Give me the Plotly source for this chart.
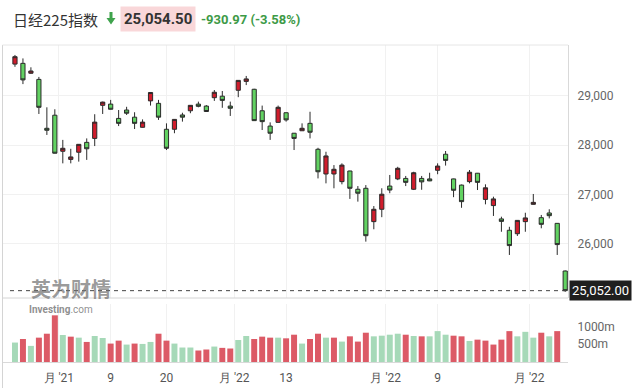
import plotly.graph_objects as go

# ---------------- data ----------------
dates = ["2021-11-22", "2021-11-24", "2021-11-25", "2021-11-26", "2021-11-29", "2021-11-30",
         "2021-12-01", "2021-12-02", "2021-12-03", "2021-12-06", "2021-12-07", "2021-12-08",
         "2021-12-09", "2021-12-10", "2021-12-13", "2021-12-14", "2021-12-15", "2021-12-16",
         "2021-12-17", "2021-12-20", "2021-12-21", "2021-12-22", "2021-12-23", "2021-12-24",
         "2021-12-27", "2021-12-28", "2021-12-29", "2021-12-30", "2022-01-04", "2022-01-05",
         "2022-01-06", "2022-01-07", "2022-01-11", "2022-01-12", "2022-01-13", "2022-01-14",
         "2022-01-17", "2022-01-18", "2022-01-19", "2022-01-20", "2022-01-21", "2022-01-24",
         "2022-01-25", "2022-01-26", "2022-01-27", "2022-01-28", "2022-01-31", "2022-02-01",
         "2022-02-02", "2022-02-03", "2022-02-04", "2022-02-07", "2022-02-08", "2022-02-09",
         "2022-02-10", "2022-02-14", "2022-02-15", "2022-02-16", "2022-02-17", "2022-02-18",
         "2022-02-21", "2022-02-22", "2022-02-24", "2022-02-25", "2022-02-28", "2022-03-01",
         "2022-03-02", "2022-03-03", "2022-03-04", "2022-03-07"]

opens = [29640, 29655, 29455, 29330, 28340, 28605, 27875, 27710, 27855, 28055,
         28135, 28805, 28830, 28540, 28710, 28565, 28360, 28895, 28845, 28320,
         28320, 28610, 28695, 28830, 28790, 28960, 28990, 28790, 29110, 29290,
         29130, 28695, 28385, 28460, 28655, 28240, 28290, 28440, 27915, 27415,
         27415, 27260, 27475, 27105, 27125, 26450, 26700, 27170, 27315, 27325,
         27105, 27325, 27315, 27490, 27815, 27315, 27190, 27260, 27430, 26900,
         26775, 26505, 26275, 26205, 26450, 26800, 26530, 26625, 26415, 25450]

highs = [29825, 29755, 29575, 29380, 28765, 28725, 28105, 27925, 28020, 28135,
         28625, 28880, 28915, 28710, 28775, 28665, 28520, 29070, 28915, 28440,
         28525, 28655, 28810, 28880, 28810, 29115, 29095, 28880, 29315, 29400,
         29140, 28800, 28460, 28800, 28660, 28245, 28440, 28675, 27945, 27865,
         27595, 27630, 27480, 27170, 27190, 26765, 27125, 27395, 27560, 27375,
         27460, 27375, 27440, 27630, 27880, 27320, 27200, 27495, 27435, 27205,
         26955, 26550, 26345, 26480, 26630, 27010, 26585, 26700, 26420, 25460]

lows = [29585, 29235, 29440, 28630, 28205, 27830, 27630, 27630, 27665, 27700,
        27980, 28630, 28720, 28385, 28610, 28325, 28355, 28800, 28510, 27900,
        28240, 28475, 28645, 28765, 28675, 28895, 28755, 28590, 28970, 29215,
        28490, 28305, 28105, 28455, 28475, 27900, 28285, 28135, 27325, 27225,
        27125, 27205, 26910, 26855, 26045, 26295, 26540, 27025, 27290, 27170,
        27090, 27095, 27270, 27410, 27585, 26945, 26730, 27225, 27090, 26800,
        26565, 26245, 25775, 26160, 26245, 26795, 26315, 26515, 25775, 25030]

closes = [29790, 29320, 29500, 28765, 28300, 27835, 27935, 27760, 28015, 27925,
          28465, 28870, 28725, 28440, 28645, 28440, 28465, 29065, 28565, 27935,
          28520, 28565, 28805, 28785, 28680, 29070, 28905, 28745, 29310, 29340,
          28495, 28475, 28240, 28765, 28510, 28135, 28340, 28260, 27460, 27780,
          27510, 27595, 27125, 27025, 26165, 26700, 27005, 27090, 27530, 27245,
          27440, 27255, 27275, 27575, 27690, 27085, 26855, 27450, 27245, 27135,
          26910, 26455, 25965, 26475, 26525, 26840, 26395, 26570, 25985, 25052]

volumes_m = [548, 648, 454, 686, 797, 1315, 760, 714, 686, 565,
             732, 676, 519, 602, 491, 519, 509, 565, 797, 602,
             519, 408, 408, 324, 352, 435, 398, 380, 620, 732,
             648, 714, 686, 686, 667, 769, 519, 648, 797, 686,
             686, 575, 723, 575, 825, 723, 741, 769, 797, 769,
             732, 723, 723, 870, 769, 741, 723, 593, 630, 602,
             491, 630, 870, 723, 850, 686, 825, 723, 870, None]

tick_pos = [5.5, 12, 19, 27.5, 34, 46.5, 53, 64.5]
tick_text = ["月 '21", "9", "20", "月 '22", "13", "月 '22", "9", "月 '22"]
price_ticks = [26000, 27000, 28000, 29000]
vol_ticks = [500, 1000]
vol_tick_text = ["500m", "1000m"]
last_price = 25052.00
header_name = "日经225指数"
header_price = "25,054.50"
header_change = "-930.97 (-3.58%)"

# ---------------- layout helpers ----------------
W, H = 635, 388
ML, MR, MT, MB = 3, 67, 45, 26
PW, PH = W - ML - MR, H - MT - MB


def px(p):
    return (p - ML) / PW


def py(p):
    return (H - MB - p) / PH


idx = list(range(len(dates)))

vol_colors = []
for i, c in enumerate(closes):
    prev = closes[i - 1] if i > 0 else opens[0]
    vol_colors.append("#a6d9b8" if c >= prev else "#dc5a66")

fig = go.Figure()
fig.add_trace(go.Bar(
    x=idx, y=volumes_m, marker=dict(color=vol_colors, line=dict(width=0)),
    width=0.75, xaxis="x", yaxis="y2", showlegend=False, hoverinfo="skip"))
fig.add_trace(go.Candlestick(
    x=idx, open=opens, high=highs, low=lows, close=closes,
    text=dates,
    increasing=dict(line=dict(color="#2b2b2b", width=1), fillcolor="#d01c2c"),
    decreasing=dict(line=dict(color="#2b2b2b", width=1), fillcolor="#62d262"),
    whiskerwidth=0, xaxis="x", yaxis="y", showlegend=False))

grid = "#f1f1f1"
price_bottom_px, price_top_px = 298, MT
y_per_px = 20.25
p_top = 29000 + (95.7 - price_top_px) * y_per_px
p_bot = 29000 - (price_bottom_px - 95.7) * y_per_px
vol_top_px = 304
vol_max = (H - MB - vol_top_px) / 35.5 * 1000

fig.update_layout(
    width=W, height=H,
    margin=dict(l=ML, r=MR, t=MT, b=MB),
    paper_bgcolor="white", plot_bgcolor="white",
    font=dict(family="Roboto, Arial, sans-serif", color="#666", size=12),
    boxgap=0.25,
    xaxis=dict(domain=[0, 1], anchor="y2", range=[-1.5, 69.35],
               tickmode="array", tickvals=tick_pos, ticktext=tick_text,
               showgrid=True, gridcolor=grid, zeroline=False,
               showline=True, linecolor="#d9d9d9",
               ticks="outside", ticklen=5, tickcolor="rgba(0,0,0,0)",
               tickfont=dict(size=12, color="#555"),
               rangeslider=dict(visible=False)),
    yaxis=dict(domain=[py(price_bottom_px), 1], anchor="x", side="right",
               range=[p_bot, p_top], tickmode="array", tickvals=price_ticks,
               tickformat=",d", showgrid=True, gridcolor=grid, zeroline=False,
               showline=True, linecolor="#d9d9d9",
               ticks="outside", ticklen=6, tickcolor="rgba(0,0,0,0)",
               tickfont=dict(size=12, color="#666")),
    yaxis2=dict(domain=[0, py(vol_top_px)], anchor="x", side="right",
                range=[0, vol_max], tickmode="array", tickvals=vol_ticks,
                ticktext=vol_tick_text, showgrid=False, zeroline=False,
                ticks="outside", ticklen=6, tickcolor="rgba(0,0,0,0)",
                tickfont=dict(size=12, color="#666")),
)

shapes = [
    # current price dashed line
    dict(type="line", xref="paper", yref="y", x0=px(10), x1=1,
         y0=last_price, y1=last_price, line=dict(color="#444", width=1, dash="4px,4px")),
    # separator line between panels
    dict(type="line", xref="paper", yref="paper", x0=0, x1=1,
         y0=py(price_bottom_px), y1=py(price_bottom_px), line=dict(color="#d4d4d4", width=1)),
    # left border
    dict(type="line", xref="paper", yref="paper", x0=px(2.5), x1=px(2.5),
         y0=py(MT), y1=py(H), line=dict(color="#d4d4d4", width=1)),
    # top border
    dict(type="line", xref="paper", yref="paper", x0=px(2.5), x1=1,
         y0=py(MT), y1=py(MT), line=dict(color="#e6e6e6", width=1)),
    # green down arrow in header
    dict(type="path", xref="paper", yref="paper",
         path=(f"M {px(109.5)},{py(12)} L {px(112.5)},{py(12)} L {px(112.5)},{py(18)} "
               f"L {px(115.5)},{py(18)} L {px(111)},{py(24.5)} L {px(106.5)},{py(18)} "
               f"L {px(109.5)},{py(18)} Z"),
         fillcolor="#3fa34d", line=dict(width=0)),
]
fig.update_layout(shapes=shapes)

annotations = [
    dict(xref="paper", yref="paper", x=px(11), y=py(19), xanchor="left", yanchor="middle",
         text=header_name, showarrow=False,
         font=dict(family="Noto Sans CJK SC", size=15, color="#333")),
    dict(xref="paper", yref="paper", x=px(120), y=py(19), xanchor="left", yanchor="middle",
         text=f"<b>{header_price}</b>", showarrow=False, bgcolor="#f9d7d9", borderpad=3,
         font=dict(family="Roboto", size=15, color="#333")),
    dict(xref="paper", yref="paper", x=px(199), y=py(19), xanchor="left", yanchor="middle",
         text=f"<b>{header_change}</b>", showarrow=False,
         font=dict(family="Roboto", size=13, color="#3d9a47")),
    dict(xref="paper", yref="y", x=px(569), y=last_price, xanchor="left", yanchor="middle",
         text=f"{last_price:,.2f}", showarrow=False, bgcolor="#1f1f1f", borderpad=2,
         font=dict(family="Roboto", size=13, color="white")),
    dict(xref="paper", yref="paper", x=px(71), y=py(288), xanchor="center", yanchor="middle",
         text="<b>英为财情</b>", showarrow=False,
         font=dict(family="Noto Sans CJK SC", size=20, color="rgba(110,110,110,0.7)")),
    dict(xref="paper", yref="paper", x=px(27), y=py(309), xanchor="left", yanchor="middle",
         text="<b>Investing</b>.com", showarrow=False,
         font=dict(family="Roboto", size=10, color="rgba(105,105,105,0.75)")),
]
fig.update_layout(annotations=annotations)

fig.write_html("out.html", config={"displayModeBar": False},
               post_script="document.body.style.margin='0px';")
